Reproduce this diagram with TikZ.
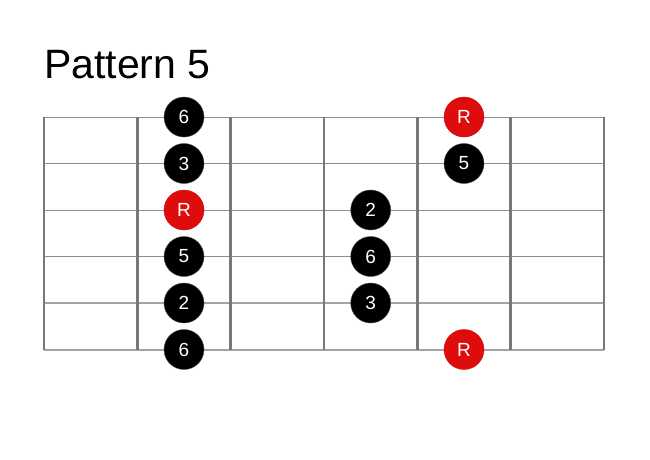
\documentclass[tikz,border=0pt]{standalone}
\usepackage{fontspec}
\setmainfont{Liberation Sans}
\definecolor{rootRed}{RGB}{222,12,12}
\definecolor{fretGray}{RGB}{120,120,120}
\definecolor{stringGray}{RGB}{140,140,140}
\begin{document}
\begin{tikzpicture}[x=1pt, y=-1pt,
fretLine/.style={draw=fretGray, line width=2.6pt},
stringLine/.style={draw=stringGray, line width=0.9pt},
stringThick/.style={draw=stringGray!80, line width=2pt},
dotNote/.style={circle, draw=black!70, line width=0.4pt, fill=black, minimum size=40pt, inner sep=0pt, text=white, font=\fontsize{19}{19}\selectfont},
dotRoot/.style={dotNote, draw=rootRed!90!black, fill=rootRed}
]

\useasboundingbox[fill=white] (0,0) rectangle (650,459);

\node[anchor=base west, inner sep=0pt, font=\fontsize{41}{41}\selectfont] (title) at (44,78) {Pattern 5};

% strings
\draw[stringLine] (44,117) -- (604,117);
\draw[stringLine] (44,163.5) -- (604,163.5);
\draw[stringLine] (44,210) -- (604,210);
\draw[stringLine] (44,256.5) -- (604,256.5);
\draw[stringThick] (44,303) -- (604,303);
\draw[stringThick] (44,349.5) -- (604,349.5);

% frets
\draw[fretLine] (44,117) -- (44,350);
\draw[fretLine] (137.3,117) -- (137.3,350);
\draw[fretLine] (230.7,117) -- (230.7,350);
\draw[fretLine] (324,117) -- (324,350);
\draw[fretLine] (417.3,117) -- (417.3,350);
\draw[fretLine] (510.7,117) -- (510.7,350);
\draw[fretLine] (604,117) -- (604,350);


\node[dotNote] (sixA) at (184,117) {6};
\node[dotNote] (threeA) at (184,163.5) {3};
\node[dotRoot] (rootA) at (184,210) {R};
\node[dotNote] (fiveA) at (184,256.5) {5};
\node[dotNote] (twoA) at (184,303) {2};
\node[dotNote] (sixB) at (184,349.5) {6};

\node[dotNote] (twoB) at (370.7,210) {2};
\node[dotNote] (sixC) at (370.7,256.5) {6};
\node[dotNote] (threeB) at (370.7,303) {3};

\node[dotRoot] (rootB) at (464,117) {R};
\node[dotNote] (fiveB) at (464,163.5) {5};
\node[dotRoot] (rootC) at (464,349.5) {R};

\end{tikzpicture}
\end{document}
